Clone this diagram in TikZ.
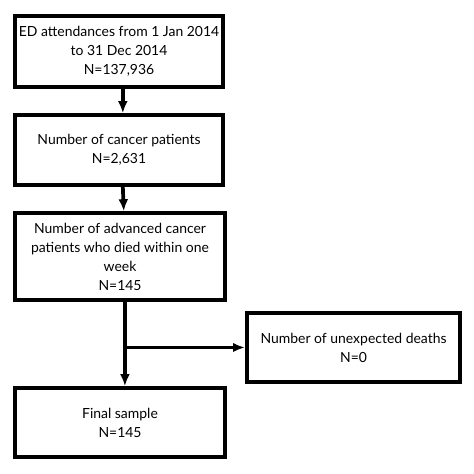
\documentclass[tikz,border=0pt]{standalone}
\usepackage{fontspec}
\setmainfont{Lato}
\usetikzlibrary{arrows.meta, positioning, calc}

\begin{document}
\begin{tikzpicture}[
    font=\fontsize{10.5}{14.3}\selectfont,
    box/.style={draw, rectangle, line width=2.8pt, inner xsep=1pt, minimum width=5.5cm, align=center, fill=white},
    sidebox/.style={box, minimum width=5.64cm, minimum height=1.83cm},
    arrow/.style={-{Latex[length=9pt,width=7.5pt]}, line width=2.8pt},
    branch/.style={-{Latex[length=9pt,width=7pt]}, line width=2pt}
]
\useasboundingbox (0,0) rectangle (12.54,12.54);

% Main column
\node[box, minimum height=1.88cm] (attend) at (3.149,11.18) {ED attendances from 1 Jan 2014\\to 31 Dec 2014\\N=137,936};
\node[box, minimum height=1.85cm] (cancer) at (3.149,8.573) {Number of cancer patients\\N=2,631};
\node[box, minimum width=5.56cm, minimum height=2.30cm] (advanced) at (3.175,5.755) {Number of advanced cancer\\patients who died within one\\week\\N=145};
\node[box, minimum width=5.56cm, minimum height=1.83cm] (final) at (3.175,1.363) {Final sample\\N=145};

% Exclusion
\node[sidebox] (unexp) at (9.353,3.347) {Number of unexpected deaths\\N=0};

% Connections
\draw[arrow] ([xshift=0.1cm]attend.south) -- ([xshift=0.1cm]cancer.north);
\draw[arrow] ([xshift=0.1cm]cancer.south) -- ([xshift=0.1cm]advanced.north);
\draw[arrow] ([xshift=0.13cm]advanced.south) -- ([xshift=0.13cm]final.north);
\coordinate (split) at ($([xshift=0.13cm]advanced.south)!0.5!([xshift=0.13cm]final.north)$);
\draw[branch] (split |- unexp.west) -- (unexp.west);

\end{tikzpicture}
\end{document}
